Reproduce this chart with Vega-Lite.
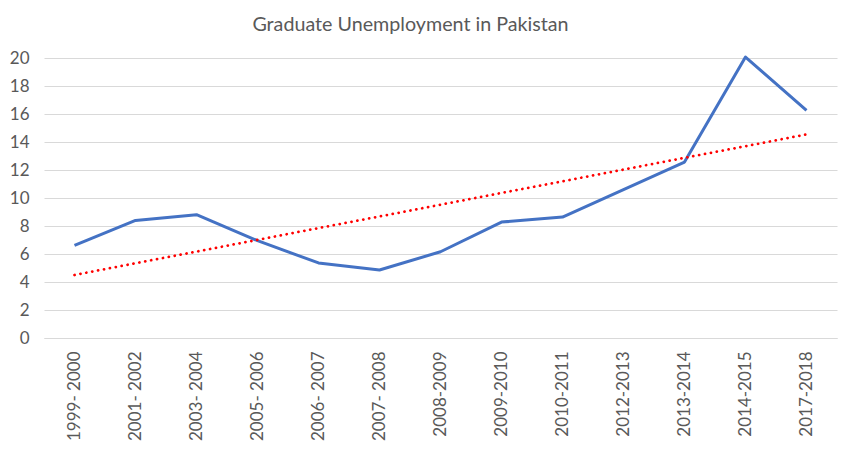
{
  "$schema": "https://vega.github.io/schema/vega-lite/v6.json",
  "width": 793,
  "height": 280,
  "autosize": {"type": "none"},
  "padding": {"left": 44, "top": 58, "right": 16, "bottom": 113},
  "background": "white",
  "title": {
    "text": "Graduate Unemployment in Pakistan",
    "font": "Lato",
    "fontSize": 19.7,
    "fontWeight": "normal",
    "color": "#595959",
    "anchor": "middle",
    "dx": -30,
    "offset": 14
  },
  "config": {
    "view": {"stroke": null},
    "axis": {
      "labelFont": "Lato",
      "labelColor": "#595959",
      "gridColor": "#d9d9d9",
      "gridWidth": 1,
      "ticks": false,
      "title": null,
      "labelOverlap": false
    }
  },
  "data": {
    "values": [
      {"period": "1999- 2000", "value": 6.61, "trend": 4.5},
      {"period": "2001- 2002", "value": 8.4, "trend": 5.34},
      {"period": "2003- 2004", "value": 8.81, "trend": 6.17},
      {"period": "2005- 2006", "value": 6.95, "trend": 7.01},
      {"period": "2006- 2007", "value": 5.36, "trend": 7.85},
      {"period": "2007- 2008", "value": 4.86, "trend": 8.68},
      {"period": "2008-2009", "value": 6.16, "trend": 9.52},
      {"period": "2009-2010", "value": 8.28, "trend": 10.36},
      {"period": "2010-2011", "value": 8.64, "trend": 11.19},
      {"period": "2012-2013", "value": 10.6, "trend": 12.03},
      {"period": "2013-2014", "value": 12.57, "trend": 12.87},
      {"period": "2014-2015", "value": 20.07, "trend": 13.7},
      {"period": "2017-2018", "value": 16.26, "trend": 14.54}
    ]
  },
  "encoding": {
    "x": {
      "field": "period",
      "type": "ordinal",
      "sort": null,
      "scale": {"paddingOuter": 0.5},
      "axis": {
        "labelAngle": 270,
        "labelAlign": "right",
        "labelBaseline": "middle",
        "labelFontSize": 17,
        "labelPadding": 13,
        "domainColor": "#d9d9d9",
        "grid": false
      }
    }
  },
  "layer": [
    {
      "mark": {"type": "line", "color": "#4472C4", "strokeWidth": 3, "strokeJoin": "round"},
      "encoding": {
        "y": {
          "field": "value",
          "type": "quantitative",
          "scale": {"domain": [0, 20], "nice": false},
          "axis": {
            "values": [0, 2, 4, 6, 8, 10, 12, 14, 16, 18, 20],
            "labelFontSize": 17,
            "labelPadding": 15,
            "domain": false,
            "grid": true
          }
        }
      }
    },
    {
      "mark": {"type": "line", "color": "#FF0000", "strokeWidth": 2.75, "strokeDash": [0.1, 5.9], "strokeCap": "round"},
      "encoding": {
        "y": {
          "field": "trend",
          "type": "quantitative",
          "scale": {"domain": [0, 20], "nice": false},
          "axis": {
            "values": [0, 2, 4, 6, 8, 10, 12, 14, 16, 18, 20],
            "labelFontSize": 17,
            "labelPadding": 15,
            "domain": false,
            "grid": true
          }
        }
      }
    }
  ]
}
